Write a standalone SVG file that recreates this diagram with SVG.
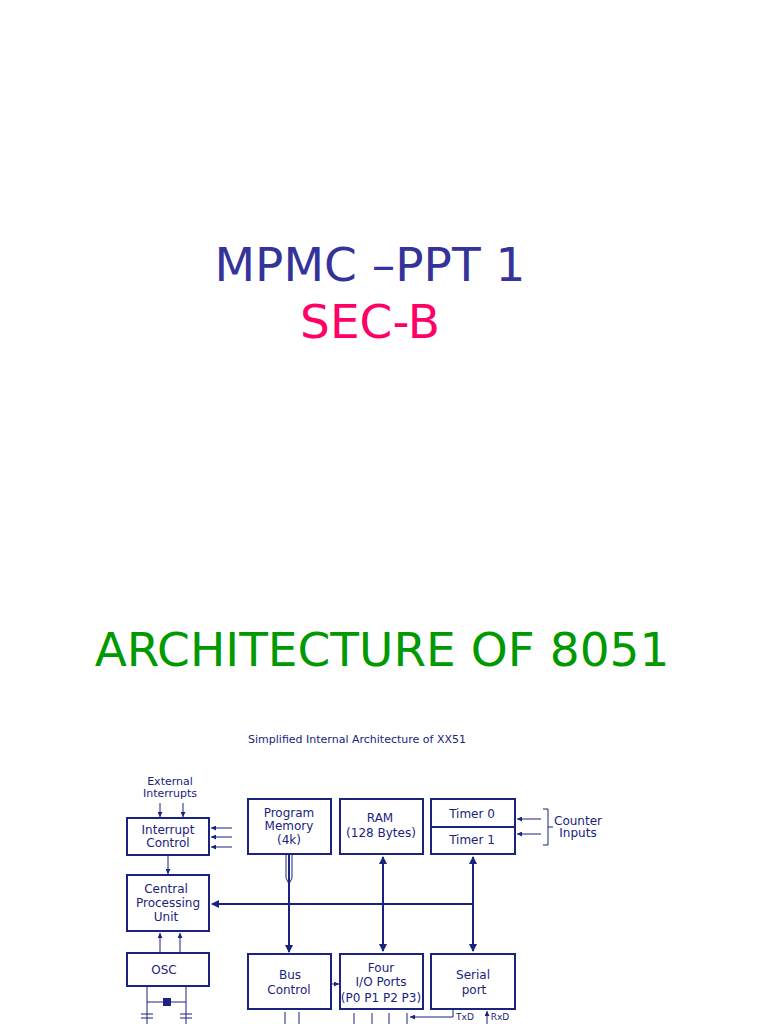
<svg xmlns="http://www.w3.org/2000/svg" width="768" height="1024" viewBox="0 0 768 1024">
<style>
.b{fill:#fff;stroke:#1a237e;stroke-width:2}
.l{stroke:#1a237e;stroke-width:2;fill:none}
.t{stroke:#1a237e;stroke-width:1;fill:none}
.d{font-family:"DejaVu Sans",sans-serif;font-size:12px;fill:#1a237e;text-anchor:middle}
</style>
<defs>
<marker id="a" markerWidth="8" markerHeight="8" refX="7" refY="4" orient="auto-start-reverse" markerUnits="userSpaceOnUse"><path d="M0,0L8,4L0,8z" fill="#1a237e"/></marker>
<marker id="s" markerWidth="5" markerHeight="5" refX="5" refY="2.5" orient="auto" markerUnits="userSpaceOnUse"><path d="M0,0L5,2.5L0,5z" fill="#1a237e"/></marker>
</defs>
<rect width="768" height="1024" fill="#fff"/>
<text x="370" y="281" font-family="DejaVu Sans,sans-serif" font-size="47" fill="#333399" text-anchor="middle">MPMC –PPT 1</text>
<text x="370" y="338" font-family="DejaVu Sans,sans-serif" font-size="47" fill="#ff0066" text-anchor="middle">SEC-B</text>
<text x="382" y="666" font-family="DejaVu Sans,sans-serif" font-size="47" fill="#009900" text-anchor="middle">ARCHITECTURE OF 8051</text>
<text x="357" y="743" class="d" style="font-size:11px">Simplified Internal Architecture of XX51</text>
<text x="170" y="785" class="d" style="font-size:11px">External</text>
<text x="170" y="797" class="d" style="font-size:11px">Interrupts</text>
<text x="578" y="825" class="d">Counter</text>
<text x="578" y="837" class="d">Inputs</text>
<g id="connectors">
<line class="t" x1="160" y1="803" x2="160" y2="817" marker-end="url(#s)"/>
<line class="t" x1="183" y1="803" x2="183" y2="817" marker-end="url(#s)"/>
<line class="t" x1="232" y1="828" x2="211" y2="828" marker-end="url(#s)"/>
<line class="t" x1="232" y1="837" x2="211" y2="837" marker-end="url(#s)"/>
<line class="t" x1="232" y1="847" x2="211" y2="847" marker-end="url(#s)"/>
<line class="t" x1="168" y1="856" x2="168" y2="874" marker-end="url(#s)"/>
<line class="t" x1="160" y1="952" x2="160" y2="933" marker-end="url(#s)"/>
<line class="t" x1="180" y1="952" x2="180" y2="933" marker-end="url(#s)"/>
<line class="l" x1="473" y1="904" x2="212" y2="904" marker-end="url(#a)"/>
<line class="l" x1="289" y1="855" x2="289" y2="952" marker-end="url(#a)"/>
<path d="M286 855V878M292 855V878M286 878L289 884L292 878" class="t"/>
<line class="l" x1="383" y1="857" x2="383" y2="951" marker-start="url(#a)" marker-end="url(#a)"/>
<line class="l" x1="473" y1="857" x2="473" y2="951" marker-start="url(#a)" marker-end="url(#a)"/>
<line class="t" x1="541" y1="819" x2="517" y2="819" marker-end="url(#s)"/>
<line class="t" x1="541" y1="834" x2="517" y2="834" marker-end="url(#s)"/>
<path d="M543 809H548V845H543M548 827H553" class="t"/>
<line class="t" x1="332" y1="984" x2="339" y2="984" marker-end="url(#s)"/>
<path d="M147 987V1024M186 987V1024M147 1002H186" class="t"/>
<rect x="163" y="998" width="8" height="8" fill="#1a237e"/>
<path d="M141 1014H153M141 1018H153M180 1014H192M180 1018H192" class="t"/>
<path d="M285 1024V1012M299 1024V1012M354 1024V1013M372 1024V1013M389 1024V1013M407 1024V1013" class="t"/>
<path d="M453 1010V1017H410" class="t" marker-end="url(#s)"/>
<line class="t" x1="487" y1="1024" x2="487" y2="1011" marker-end="url(#s)"/>
</g>
<text x="465" y="1020" class="d" style="font-size:9px">TxD</text>
<text x="500" y="1020" class="d" style="font-size:9px">RxD</text>
<g id="int"><rect class="b" x="127" y="818" width="82" height="37"/><text x="168" y="834" class="d">Interrupt</text><text x="168" y="847" class="d">Control</text></g>
<g id="cpu"><rect class="b" x="127" y="875" width="82" height="56"/><text x="166" y="893" class="d">Central</text><text x="168" y="907" class="d">Processing</text><text x="166" y="921" class="d">Unit</text></g>
<g id="osc"><rect class="b" x="127" y="953" width="82" height="33"/><text x="164" y="974" class="d">OSC</text></g>
<g id="pm"><rect class="b" x="248" y="799" width="83" height="55"/><text x="289" y="817" class="d">Program</text><text x="289" y="830" class="d">Memory</text><text x="289" y="844" class="d">(4k)</text></g>
<g id="ram"><rect class="b" x="340" y="799" width="83" height="55"/><text x="380" y="822" class="d">RAM</text><text x="381" y="837" class="d">(128 Bytes)</text></g>
<g id="timers"><rect class="b" x="431" y="799" width="84" height="55"/><line class="l" x1="431" y1="827" x2="515" y2="827"/><text x="472" y="818" class="d">Timer 0</text><text x="472" y="844" class="d">Timer 1</text></g>
<g id="bus"><rect class="b" x="248" y="954" width="83" height="55"/><text x="290" y="979" class="d">Bus</text><text x="289" y="994" class="d">Control</text></g>
<g id="io"><rect class="b" x="340" y="954" width="83" height="55"/><text x="381" y="972" class="d">Four</text><text x="381" y="986" class="d">I/O Ports</text><text x="381" y="1002" class="d">(P0 P1 P2 P3)</text></g>
<g id="serial"><rect class="b" x="431" y="954" width="84" height="55"/><text x="473" y="979" class="d">Serial</text><text x="474" y="994" class="d">port</text></g>
</svg>
